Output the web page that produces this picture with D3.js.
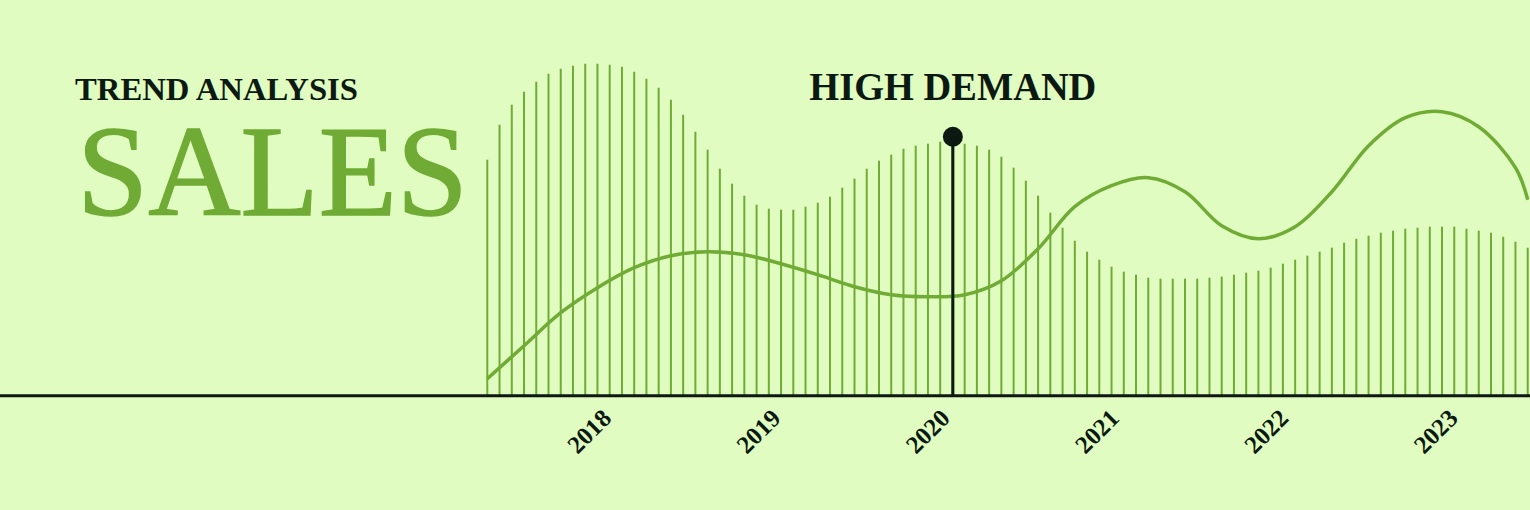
<!DOCTYPE html>
<html>
<head>
<meta charset="utf-8">
<script src="https://cdn.jsdelivr.net/npm/d3@7"></script>
<style>
  html, body { margin: 0; padding: 0; background: #e0fcc0; }
  svg { display: block; }
</style>
</head>
<body>
<svg id="chart" width="1530" height="510"></svg>
<script>
// ---------- DATA ----------
const yearLabels = ["2018", "2019", "2020", "2021", "2022", "2023"];
const yearTicks = [2018, 2019, 2020, 2021, 2022, 2023];

// periodic sales bars (86 periods, first period starts ~2017.25)
const firstPeriod = 2017.25;
const periodLength = 0.0723;
const barValues = [
  236, 271, 291, 304, 314, 322, 327, 330, 332, 332, 331, 329, 324, 317, 308, 296, 281, 264, 246, 227, 212, 200, 191, 187,
  186, 186, 189, 193, 199, 208, 217, 227, 235, 241, 247, 250, 252, 254, 254, 252, 250, 246, 239, 228, 215, 200, 183, 168, 155,
  144, 136, 129, 124, 121, 118, 117, 117, 117, 117, 118, 119, 121, 123, 125, 128, 132, 136, 140, 144, 148, 153, 157, 160,
  163, 165, 167, 168, 169, 169, 169, 167, 165, 163, 159, 154, 148
];

// trend line
const trendDates = [
  2017.250, 2017.467, 2017.684, 2017.901, 2018.118, 2018.335, 2018.551, 2018.768, 2018.985, 2019.202,
  2019.419, 2019.636, 2019.853, 2020.070, 2020.287, 2020.504, 2020.720, 2020.937, 2021.154, 2021.371,
  2021.588, 2021.805, 2022.022, 2022.239, 2022.456, 2022.673, 2022.889, 2023.106, 2023.323, 2023.396
];
const trendValues = [
  17, 50, 83, 108, 128, 140, 144, 141, 132, 121,
  109, 101, 99, 101, 115, 147, 189, 210, 218, 204,
  170, 157, 169, 204, 250, 278, 284, 269, 228, 196
];

const highlightYear = 2020;
const highlightValue = 259;
const highlightLabel = "HIGH DEMAND";
const kicker = "TREND ANALYSIS";
const title = "SALES";

// ---------- STYLE ----------
const GREEN = "#70ab35";
const INK = "#0c1912";
const W = 1530, H = 510;
const SERIF = "'Liberation Serif', 'Times New Roman', serif";

const svg = d3.select("#chart");
svg.append("rect").attr("width", W).attr("height", H).attr("fill", "#e0fcc0");

const barDates = barValues.map((v, i) => firstPeriod + i * periodLength);

const x = d3.scaleLinear()
  .domain([firstPeriod, firstPeriod + (barValues.length - 1) * periodLength])
  .range([487.3, 1527.7]);
const y = d3.scaleLinear().domain([0, 340]).range([395.7, 55.7]);

// bars
svg.append("g").selectAll("line")
  .data(barValues)
  .join("line")
  .attr("x1", (d, i) => x(barDates[i]))
  .attr("x2", (d, i) => x(barDates[i]))
  .attr("y1", y(0))
  .attr("y2", d => y(d))
  .attr("stroke", GREEN)
  .attr("stroke-width", 2);

// trend line
const line = d3.line()
  .x((d, i) => x(trendDates[i]))
  .y(d => y(d))
  .curve(d3.curveCatmullRom.alpha(0.5));
svg.append("path")
  .datum(trendValues)
  .attr("d", line)
  .attr("fill", "none")
  .attr("stroke", GREEN)
  .attr("stroke-width", 3.5);

// baseline across the full width
svg.append("line")
  .attr("x1", 0).attr("x2", W)
  .attr("y1", y(0)).attr("y2", y(0))
  .attr("stroke", INK).attr("stroke-width", 3);

// axis labels
const axis = d3.axisBottom(x)
  .tickValues(yearTicks)
  .tickFormat((d, i) => yearLabels[i])
  .tickSize(0);
const gAxis = svg.append("g")
  .attr("transform", `translate(0,${y(0)})`)
  .call(axis);
gAxis.select(".domain").remove();
gAxis.selectAll("text")
  .attr("font-family", SERIF)
  .attr("font-weight", "bold")
  .attr("font-size", 25)
  .attr("fill", INK)
  .attr("text-anchor", "end")
  .attr("dy", 0)
  .attr("y", 0)
  .attr("transform", "translate(-2,24) rotate(-45)");

// highlight marker
svg.append("line")
  .attr("x1", x(highlightYear)).attr("x2", x(highlightYear))
  .attr("y1", y(0)).attr("y2", y(highlightValue))
  .attr("stroke", INK).attr("stroke-width", 3);
svg.append("circle")
  .attr("cx", x(highlightYear)).attr("cy", y(highlightValue))
  .attr("r", 10)
  .attr("fill", INK);
svg.append("text")
  .attr("x", x(highlightYear)).attr("y", 100)
  .attr("text-anchor", "middle")
  .attr("font-family", SERIF)
  .attr("font-weight", "bold")
  .attr("font-size", 40)
  .attr("textLength", 287)
  .attr("lengthAdjust", "spacingAndGlyphs")
  .attr("fill", INK)
  .text(highlightLabel);

// titles
svg.append("text")
  .attr("x", 75).attr("y", 100)
  .attr("font-family", SERIF)
  .attr("font-weight", "bold")
  .attr("font-size", 32)
  .attr("textLength", 283)
  .attr("lengthAdjust", "spacingAndGlyphs")
  .attr("fill", INK)
  .text(kicker);
svg.append("text")
  .attr("x", 77).attr("y", 215)
  .attr("font-family", SERIF)
  .attr("font-size", 130)
  .attr("textLength", 391)
  .attr("lengthAdjust", "spacingAndGlyphs")
  .attr("fill", GREEN)
  .attr("stroke", GREEN)
  .attr("stroke-width", 1.5)
  .text(title);
</script>
</body>
</html>
